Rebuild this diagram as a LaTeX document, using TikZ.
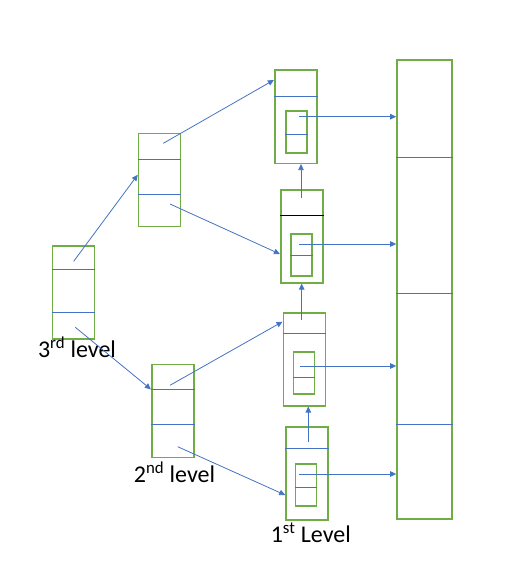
\documentclass[tikz,border=0pt]{standalone}
\usepackage{fontspec}
\setmainfont{Carlito}
\usetikzlibrary{arrows.meta}
\definecolor{boxgreen}{HTML}{70AD47}
\definecolor{linkblue}{HTML}{4472C4}
\tikzset{
  blk/.style={draw=boxgreen, line width=1.6pt, inner sep=0pt, minimum width=42pt, minimum height=93pt},
  inblk/.style={blk, minimum width=21pt, minimum height=42pt},
  sep/.style={draw=linkblue, line width=0.8pt},
  link/.style={sep, -{Triangle[length=6pt,width=5.5pt]}},
  lbl/.style={anchor=base, font=\fontsize{24}{28}\selectfont}
}
\begin{document}
\begin{tikzpicture}
        [x=1pt,y=-1pt]
        \useasboundingbox (0,0) rectangle (517,583);

        \node[blk] (lv3) at (73.5,292.5) {};
        \node[blk] (lv2a) at (159.5,179.8) {};
        \node[blk] (lv2b) at (172.7,411) {};
        \node[blk] (lv1a) at (295.7,116.8) {};
        \node[blk] (lv1b) at (301.7,236.3) {};
        \node[blk] (lv1c) at (304.3,359.2) {};
        \node[blk] (lv1d) at (307,473.3) {};
        \node[inblk] (in1) at (296.3,132) {};
        \node[inblk] (in2) at (301.5,254.7) {};
        \node[inblk] (in3) at (303.8,372.7) {};
        \node[inblk] (in4) at (306,485.2) {};
        \node[blk, minimum width=55pt, minimum height=459pt] (tab) at (424.5,289.5) {};

        \foreach \n/\y in {lv3/269.3, lv3/312, lv2a/159.3, lv2a/194, lv2b/389.3, lv2b/424.7,
          lv1a/96, lv1c/333.3, lv1d/448, in1/134, in2/255.7, in3/377, in4/487.3,
          tab/157, tab/293.3, tab/424}
        {\draw[sep] (\n.west |- 0,\y) -- (\n.east |- 0,\y);}
        \draw[line width=0.9pt] (lv1b.west |- 0,215.3) -- (lv1b.east |- 0,215.3);

        \node[lbl] (lab3) at (77,357.7) {3\textsuperscript{rd} level};
        \node[lbl] (lab2) at (174.5,482.7) {2\textsuperscript{nd} level};
        \node[lbl] (lab1) at (310.8,542.7) {1\textsuperscript{st} Level};

        \coordinate (s1) at (73.7,261.3);
        \coordinate (s2) at (75.3,327.3);
        \coordinate (s3) at (163.3,143.3);
        \coordinate (s4) at (170,204);
        \coordinate (s5) at (170,385.3);
        \coordinate (s6) at (177.7,446.7);
        \coordinate (u2) at (301,198);
        \coordinate (u3) at (301.7,320);
        \coordinate (u4) at (308.3,441.7);
        \coordinate (r1) at (299,116.7);
        \coordinate (r2) at (299,244);
        \coordinate (r3) at (300,366);
        \coordinate (r4) at (299.3,474);

        \draw[link] (s1) -- ([yshift=5pt]lv2a.west);
        \draw[link] (s2) -- ([yshift=21.7pt]lv2b.west);
        \draw[link] (s3) -- ([yshift=36.8pt]lv1a.west);
        \draw[link] (s4) -- ([yshift=-17.7pt]lv1b.west);
        \draw[link] (s5) -- ([yshift=37.5pt]lv1c.west);
        \draw[link] (s6) -- ([yshift=-21.7pt]lv1d.west);

        \draw[link] (u2) -- (u2 |- lv1a.south);
        \draw[link] (u3) -- (u3 |- lv1b.south);
        \draw[link] (u4) -- (u4 |- lv1c.south);

        \foreach \r in {r1,r2,r3,r4}
        {\draw[link] (\r) -- (\r -| tab.west);}
      \end{tikzpicture}
\end{document}
